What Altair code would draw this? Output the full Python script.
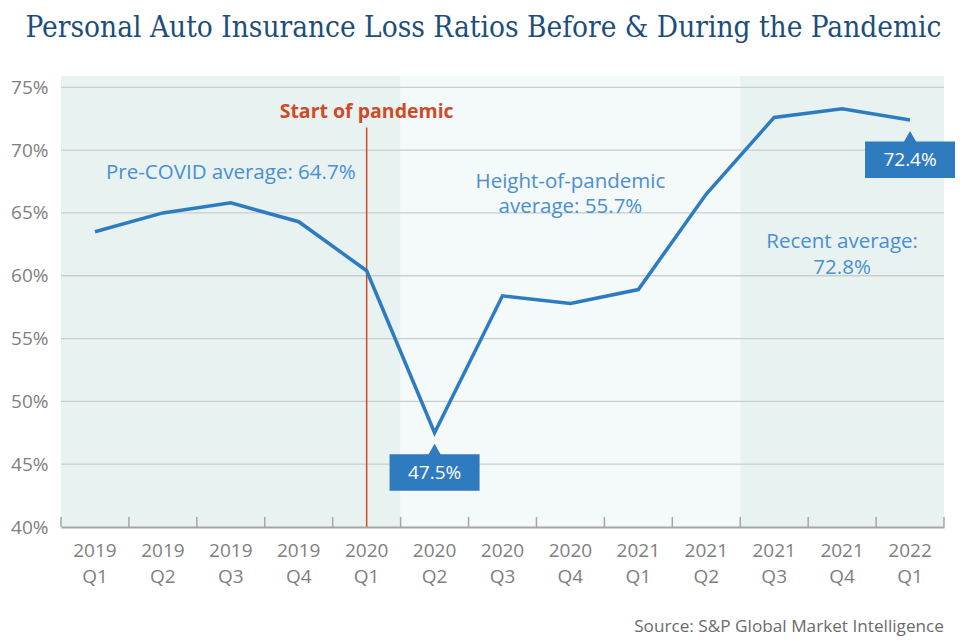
import altair as alt
import pandas as pd

# Quarterly personal auto loss ratios (%)
quarters = ["2019 Q1", "2019 Q2", "2019 Q3", "2019 Q4", "2020 Q1", "2020 Q2", "2020 Q3",
            "2020 Q4", "2021 Q1", "2021 Q2", "2021 Q3", "2021 Q4", "2022 Q1"]
loss_ratio = [63.5, 65.0, 65.8, 64.3, 60.4, 47.5, 58.4, 57.8, 58.9, 66.5, 72.6, 73.3, 72.4]

# Shaded periods, in quarter-index units (start, end)
period_start = [0, 5, 10]
period_end = [5, 10, 13]
period_fill = ["#e8f2f1", "#f4f9f9", "#e8f2f1"]

grid_values = [45, 50, 55, 60, 65, 70, 75]
tick_values = [40, 45, 50, 55, 60, 65, 70, 75]

callout_quarters = ["2020 Q2", "2022 Q1"]
callout_values = [47.5, 72.4]

W, H = 883, 451
FONT = "Open Sans"
LINE_BLUE = "#2e7cc0"
NOTE_BLUE = "#4a8fd0"
RED = "#cf4a27"

df = pd.DataFrame({"quarter": quarters, "ratio": loss_ratio})
periods = pd.DataFrame({"start": period_start, "end": period_end, "fill": period_fill})
grid = pd.DataFrame({"v": grid_values})
bounds = pd.DataFrame({"b": list(range(len(quarters) + 1))})
callouts = pd.DataFrame({"quarter": callout_quarters, "ratio": callout_values,
                         "label": [f"{v}%" for v in callout_values]})

y_scale = alt.Scale(domain=[40, 75.9], nice=False, zero=False)
q_scale = alt.Scale(domain=[0, len(quarters)], nice=False, zero=False)
band_scale = alt.Scale(type="band", domain=quarters, paddingInner=0, paddingOuter=0)


def xband(axis=None):
    return alt.X("quarter:N", sort=quarters, scale=band_scale, bandPosition=0.5, axis=axis)


background = alt.Chart(periods).mark_rect().encode(
    x=alt.X("start:Q", scale=q_scale, axis=None),
    x2="end:Q",
    y=alt.value(0),
    y2=alt.value(H),
    fill=alt.Fill("fill:N", scale=None),
)

gridlines = alt.Chart(grid).mark_rule(color="#c9cdcd", strokeWidth=1.3).encode(
    x=alt.value(0),
    x2=alt.value(W),
    y=alt.Y("v:Q", scale=y_scale, axis=alt.Axis(
        values=tick_values, labelExpr="datum.value + '%'", domain=False, ticks=False,
        grid=False, labelFont=FONT, labelFontSize=19, labelColor="#808080",
        labelPadding=13, title=None)),
)

x_ticks = alt.Chart(bounds).mark_rule(color="#a6a6a6", strokeWidth=1.5).encode(
    x=alt.X("b:Q", scale=q_scale, axis=None),
    y=alt.datum(40),
    y2=alt.value(H - 10),
)

pandemic_rule = alt.Chart(pd.DataFrame({"quarter": ["2020 Q1"], "top": [71.8], "bottom": [40]})).mark_rule(
    color=RED, strokeWidth=1.5).encode(
    x=xband(),
    y=alt.Y("top:Q", scale=y_scale),
    y2="bottom:Q",
)

line = alt.Chart(df).mark_line(color=LINE_BLUE, strokeWidth=3.5).encode(
    x=xband(alt.Axis(labelExpr="split(datum.label, ' ')", labelAngle=0, domainColor="#a6a6a6",
                     domainWidth=2, ticks=False, labelFont=FONT, labelFontSize=19,
                     labelColor="#808080", labelLineHeight=26, labelPadding=14,
                     title=None, zindex=1)),
    y=alt.Y("ratio:Q", scale=y_scale),
)

# Callout box with a small pointer, anchored at the data point
callout_shape = "M0,1.1L0.6,2.15L4.5,2.15L4.5,5.8L-4.5,5.8L-4.5,2.15L-0.6,2.15Z"
callout_box = alt.Chart(callouts).mark_point(
    shape=callout_shape, size=400, filled=True, color="#2f7bbf", opacity=1, strokeWidth=0).encode(
    x=xband(), y=alt.Y("ratio:Q", scale=y_scale))
callout_text = alt.Chart(callouts).mark_text(
    color="white", font=FONT, fontSize=19, dy=40, baseline="middle").encode(
    x=xband(), y=alt.Y("ratio:Q", scale=y_scale), text="label:N")


def note(text, quarter, yval, line_height=25, color=NOTE_BLUE, weight="normal", size=20.5):
    d = pd.DataFrame({"quarter": [quarter], "y": [yval], "text": [text]})
    return alt.Chart(d).mark_text(
        font=FONT, fontSize=size, color=color, fontWeight=weight, lineBreak="\n",
        lineHeight=line_height, baseline="middle", align="center").encode(
        x=xband(), y=alt.Y("y:Q", scale=y_scale), text="text:N")


notes = [
    note("Pre-COVID average: 64.7%", "2019 Q3", 68.2),
    note("Height-of-pandemic\naverage: 55.7%", "2020 Q4", 67.5, 25),
    note("Recent average:\n72.8%", "2021 Q4", 62.65, 26),
    note("Start of pandemic", "2020 Q1", 73.05, color=RED, weight="bold", size=19.5),
]

source = alt.Chart(pd.DataFrame({"t": ["Source: S&P Global Market Intelligence"]})).mark_text(
    font=FONT, fontSize=17.2, color="#6b6b6b", align="right", baseline="middle").encode(
    x=alt.value(W), y=alt.value(H + 100), text="t:N")

chart = alt.layer(
    background, gridlines, x_ticks, pandemic_rule, line, callout_box, callout_text, *notes, source
).resolve_scale(x="independent").properties(
    width=W, height=H,
    autosize=alt.AutoSizeParams(type="none"),
    padding={"left": 61, "top": 76, "right": 23, "bottom": 115},
    background="white",
    title=alt.TitleParams(
        "Personal Auto Insurance Loss Ratios Before & During the Pandemic",
        font="DejaVu Serif Condensed, DejaVu Serif", fontSize=29.5, fontWeight="normal",
        color="#1c4e7a", anchor="middle", frame="group", dx=-19, offset=10,
        baseline="alphabetic"),
).configure_view(stroke=None)

chart.save("out.html", embed_options={"renderer": "svg", "actions": False})
